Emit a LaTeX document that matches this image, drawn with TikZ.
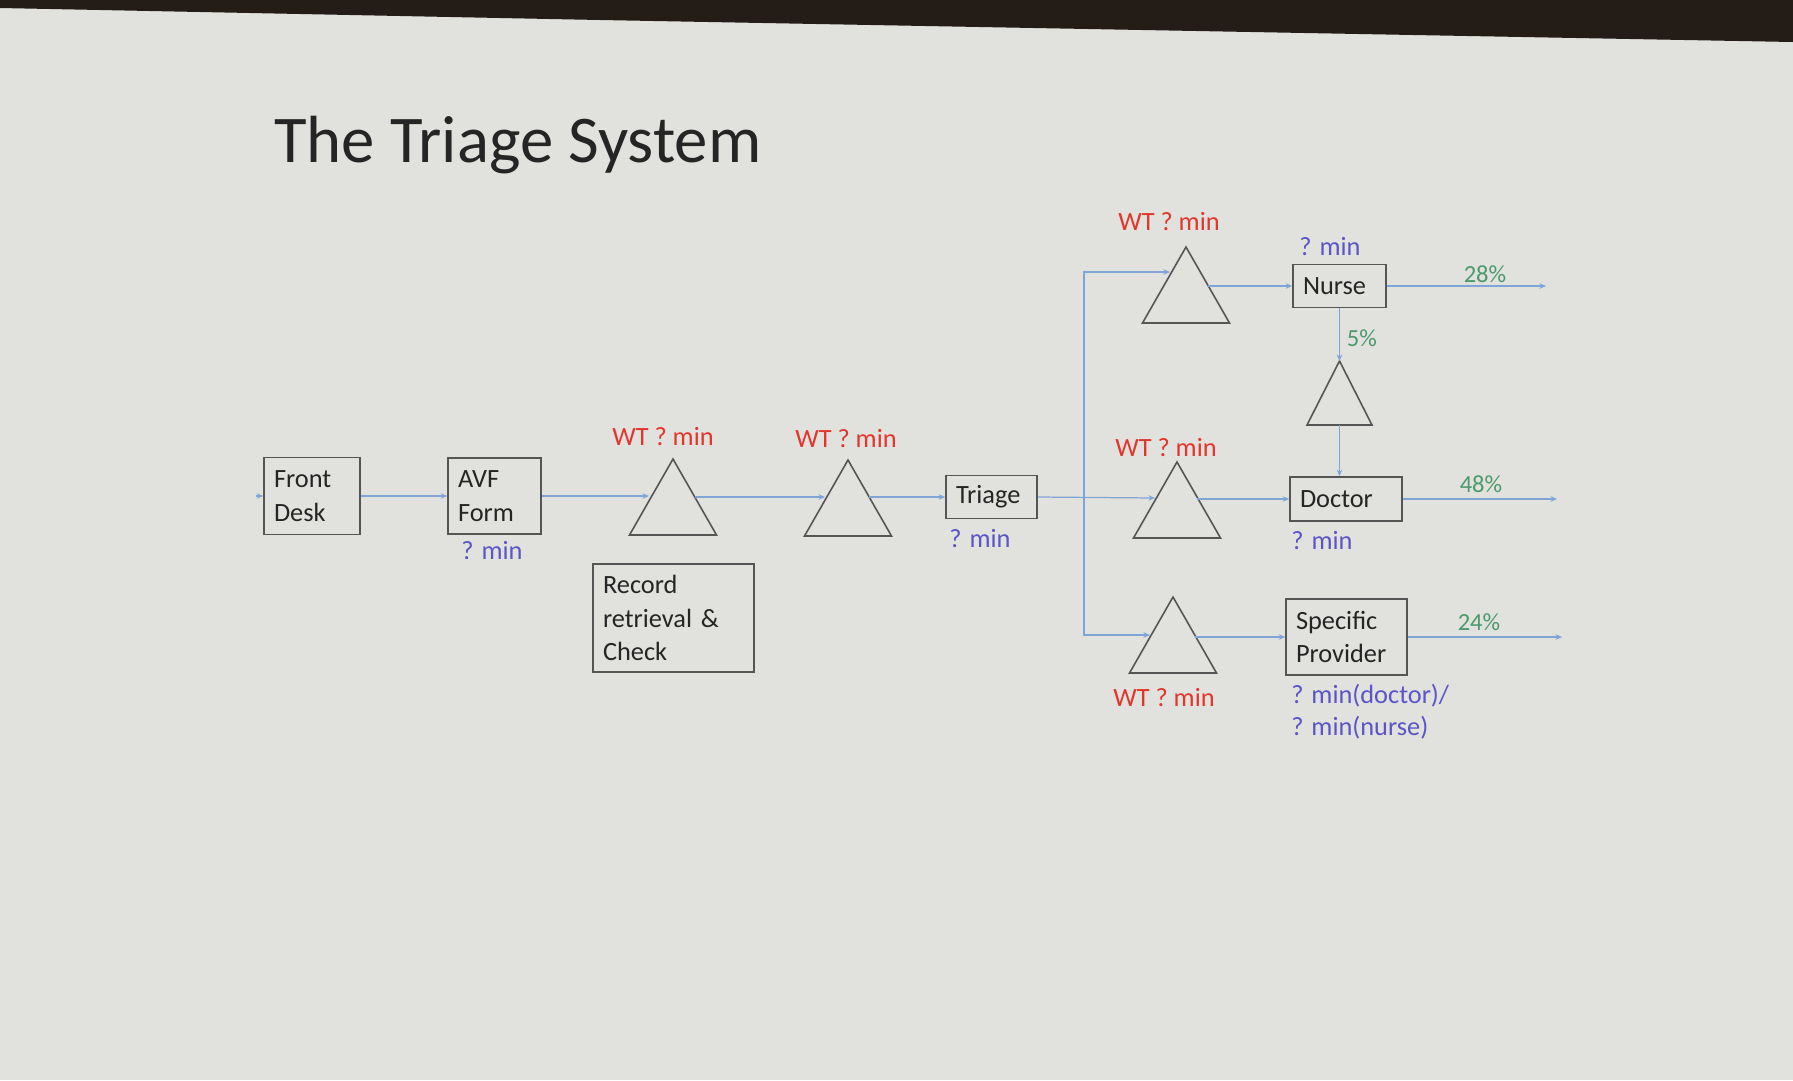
\documentclass[tikz,border=0pt]{standalone}
\usepackage{fontspec}
\setmainfont{Carlito}
\usetikzlibrary{arrows.meta}
\definecolor{bgc}{HTML}{E1E1DE}
\definecolor{bandc}{HTML}{241C17}
\definecolor{boxc}{HTML}{555555}
\definecolor{txtc}{HTML}{252525}
\definecolor{redc}{HTML}{E2362C}
\definecolor{bluec}{HTML}{5A55C8}
\definecolor{greenc}{HTML}{4C9A6C}
\definecolor{linec}{HTML}{7FA5D8}
\begin{document}
\begin{tikzpicture}[x=0.02cm,y=-0.02cm,
  box/.style={draw=boxc, line width=0.9pt, text=txtc, align=left, inner xsep=0.2cm, inner ysep=0pt,
    font=\fontsize{15}{19}\selectfont, anchor=center},
  tri/.style={draw=boxc, line width=0.9pt, line join=miter},
  conn/.style={draw=linec, line width=0.7pt, -{Stealth[length=0.13cm,width=0.11cm]}},
  wt/.style={text=redc, font=\fontsize{15}{18}\selectfont, inner sep=0pt},
  mn/.style={text=bluec, font=\fontsize{15}{18}\selectfont, inner sep=0pt},
  pct/.style={text=greenc, font=\fontsize{14}{17}\selectfont, inner sep=0pt}]
\useasboundingbox (0,0) rectangle (1793,1080);
\fill[bgc] (0,0) rectangle (1793,1080);
\fill[bandc] (0,0) -- (1793,0) -- (1793,42) -- (600,20) -- (0,8) -- cycle;

% title
\node[anchor=base west, inner sep=0pt, text=txtc, font=\fontsize{38}{45}\selectfont] (title) at (274,162) {The Triage System};

% boxes
\node[box, text width=1.52cm, minimum height=1.54cm] (fd) at (312,496) {Front\\Desk};
\node[box, text width=1.46cm, minimum height=1.52cm] (avf) at (494.5,496) {AVF\\Form};
\node[box, text width=2.82cm, minimum height=2.16cm] (rec) at (673.5,618) {Record\\retrieval \&\\Check};
\node[box, text width=1.42cm, minimum height=0.86cm] (tri) at (991.5,497) {Triage};
\node[box, text width=1.46cm, minimum height=0.86cm] (nurse) at (1339.5,286) {Nurse};
\node[box, text width=1.84cm, minimum height=0.88cm] (doc) at (1346,499) {Doctor};
\node[box, text width=2.02cm, minimum height=1.52cm] (sp) at (1346.5,637) {Specific\\Provider};

% triangles
\draw[tri] (673,459) -- (716.5,535) -- (629.5,535) -- cycle;
\draw[tri] (848,460) -- (891.5,536) -- (804.5,536) -- cycle;
\draw[tri] (1186,247) -- (1229.5,323) -- (1142.5,323) -- cycle;
\draw[tri] (1177,462) -- (1220.5,538) -- (1133.5,538) -- cycle;
\draw[tri] (1339.5,361) -- (1372,425) -- (1307,425) -- cycle;
\draw[tri] (1173,597) -- (1216.5,673) -- (1129.5,673) -- cycle;

% coordinates
\coordinate (fdin) at (256,496);
\coordinate (t1in) at (649,496);
\coordinate (t1out) at (695,497);
\coordinate (t2in) at (825,497);
\coordinate (t2out) at (869,497);
\coordinate (br) at (1084,497);
\coordinate (brt) at (1084,272);
\coordinate (brb) at (1084,635);
\coordinate (t3in) at (1170,272);
\coordinate (t3out) at (1208,286);
\coordinate (t4in) at (1155,498);
\coordinate (t4out) at (1197,499);
\coordinate (t5top) at (1339.5,361);
\coordinate (t5bot) at (1339.5,425);
\coordinate (t6in) at (1150,635);
\coordinate (t6out) at (1195,637);
\coordinate (nout) at (1546,286);
\coordinate (dout) at (1557,499);
\coordinate (sout) at (1562,637);

% connectors
\draw[conn] (fdin) -- (fd.west);
\draw[conn] (fd.east) -- (avf.west);
\draw[conn] (avf.east) -- (t1in);
\draw[conn] (t1out) -- (t2in);
\draw[conn] (t2out) -- (tri.west);
\draw[conn] (tri.east) -- (t4in);
\draw[conn] (br) -- (brt) -- (t3in);
\draw[conn] (br) -- (brb) -- (t6in);
\draw[conn] (t3out) -- (nurse.west);
\draw[conn] (t4out) -- (doc.west);
\draw[conn] (t6out) -- (sp.west);
\draw[conn] (nurse.south) -- (t5top);
\draw[conn] (t5bot) -- (t5bot |- doc.north);
\draw[conn] (nurse.east) -- (nout);
\draw[conn] (doc.east) -- (dout);
\draw[conn] (sp.east) -- (sout);

% labels
\node[mn] (l1) at (492,551) {? min};
\node[wt] (l2) at (663,437) {WT ? min};
\node[wt] (l3) at (846,439) {WT ? min};
\node[mn] (l4) at (980,539) {? min};
\node[wt] (l5) at (1169,222) {WT ? min};
\node[mn] (l6) at (1330,247) {? min};
\node[pct] (l7) at (1485,274) {28\%};
\node[pct] (l8) at (1362,338) {5\%};
\node[wt] (l9) at (1166,448) {WT ? min};
\node[mn] (l10) at (1322,541) {? min};
\node[pct] (l11) at (1481,484) {48\%};
\node[wt] (l12) at (1164,698) {WT ? min};
\node[pct] (l13) at (1479,622) {24\%};
\node[mn, anchor=north west, align=left, font=\fontsize{15}{18}\selectfont] (l14) at (1291,684) {? min(doctor)/\\? min(nurse)};
\end{tikzpicture}
\end{document}
